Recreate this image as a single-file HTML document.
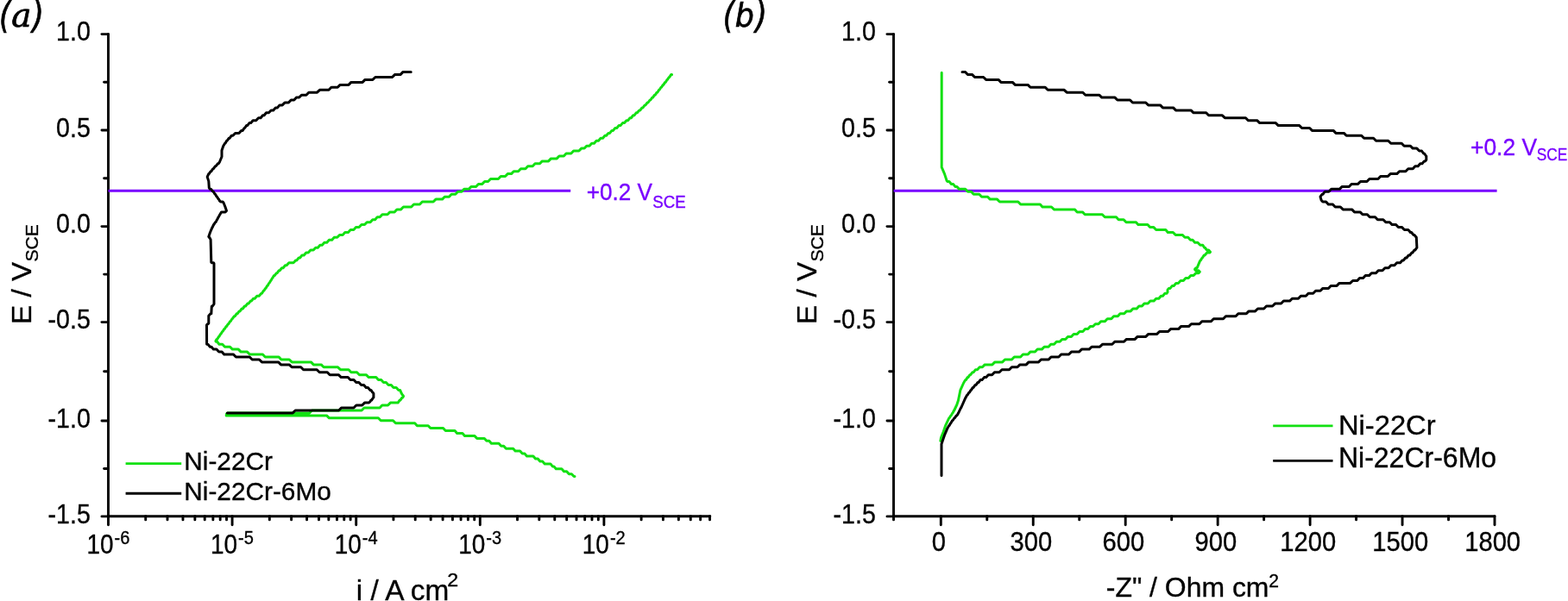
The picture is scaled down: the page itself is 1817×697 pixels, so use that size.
<!DOCTYPE html>
<html><head><meta charset="utf-8"><title>Polarization and impedance plots</title>
<style>html,body{margin:0;padding:0;background:#fff;}
body{width:1817px;height:697px;overflow:hidden;}
svg{display:block;}</style></head>
<body><svg width="1817" height="697" viewBox="0 0 1817 697">
<rect width="1817" height="697" fill="#fff"/>
<line x1="125.50" y1="39.60" x2="125.50" y2="598.80" stroke="#000" stroke-width="2.9" stroke-linecap="round"/>
<line x1="117.95" y1="39.60" x2="125.50" y2="39.60" stroke="#000" stroke-width="2.9" stroke-linecap="round"/>
<line x1="120.65" y1="95.30" x2="125.50" y2="95.30" stroke="#000" stroke-width="2.9" stroke-linecap="round"/>
<line x1="117.95" y1="151.00" x2="125.50" y2="151.00" stroke="#000" stroke-width="2.9" stroke-linecap="round"/>
<line x1="120.65" y1="206.80" x2="125.50" y2="206.80" stroke="#000" stroke-width="2.9" stroke-linecap="round"/>
<line x1="117.95" y1="262.60" x2="125.50" y2="262.60" stroke="#000" stroke-width="2.9" stroke-linecap="round"/>
<line x1="120.65" y1="318.10" x2="125.50" y2="318.10" stroke="#000" stroke-width="2.9" stroke-linecap="round"/>
<line x1="117.95" y1="373.60" x2="125.50" y2="373.60" stroke="#000" stroke-width="2.9" stroke-linecap="round"/>
<line x1="120.65" y1="430.80" x2="125.50" y2="430.80" stroke="#000" stroke-width="2.9" stroke-linecap="round"/>
<line x1="117.95" y1="488.00" x2="125.50" y2="488.00" stroke="#000" stroke-width="2.9" stroke-linecap="round"/>
<line x1="120.65" y1="543.45" x2="125.50" y2="543.45" stroke="#000" stroke-width="2.9" stroke-linecap="round"/>
<line x1="117.95" y1="598.90" x2="125.50" y2="598.90" stroke="#000" stroke-width="2.9" stroke-linecap="round"/>
<text transform="translate(104.81,47.21) scale(0.9330,1)" text-anchor="end" font-family="'Liberation Sans', Arial, Helvetica, sans-serif" font-size="30.63" fill="#000" stroke="#000" stroke-width="0.35">1.0</text>
<text transform="translate(104.81,158.61) scale(0.9330,1)" text-anchor="end" font-family="'Liberation Sans', Arial, Helvetica, sans-serif" font-size="30.63" fill="#000" stroke="#000" stroke-width="0.35">0.5</text>
<text transform="translate(104.81,270.21) scale(0.9330,1)" text-anchor="end" font-family="'Liberation Sans', Arial, Helvetica, sans-serif" font-size="30.63" fill="#000" stroke="#000" stroke-width="0.35">0.0</text>
<text transform="translate(104.81,381.21) scale(0.9330,1)" text-anchor="end" font-family="'Liberation Sans', Arial, Helvetica, sans-serif" font-size="30.63" fill="#000" stroke="#000" stroke-width="0.35">-0.5</text>
<text transform="translate(104.81,495.61) scale(0.9330,1)" text-anchor="end" font-family="'Liberation Sans', Arial, Helvetica, sans-serif" font-size="30.63" fill="#000" stroke="#000" stroke-width="0.35">-1.0</text>
<text transform="translate(104.81,606.51) scale(0.9330,1)" text-anchor="end" font-family="'Liberation Sans', Arial, Helvetica, sans-serif" font-size="30.63" fill="#000" stroke="#000" stroke-width="0.35">-1.5</text>
<line x1="125.50" y1="598.80" x2="822.80" y2="598.80" stroke="#000" stroke-width="2.9" stroke-linecap="round"/>
<line x1="125.50" y1="598.80" x2="125.50" y2="608.70" stroke="#000" stroke-width="2.9" stroke-linecap="round"/>
<line x1="168.73" y1="598.80" x2="168.73" y2="602.90" stroke="#000" stroke-width="2.9" stroke-linecap="round"/>
<line x1="194.01" y1="598.80" x2="194.01" y2="602.90" stroke="#000" stroke-width="2.9" stroke-linecap="round"/>
<line x1="211.96" y1="598.80" x2="211.96" y2="602.90" stroke="#000" stroke-width="2.9" stroke-linecap="round"/>
<line x1="225.87" y1="598.80" x2="225.87" y2="602.90" stroke="#000" stroke-width="2.9" stroke-linecap="round"/>
<line x1="237.24" y1="598.80" x2="237.24" y2="602.90" stroke="#000" stroke-width="2.9" stroke-linecap="round"/>
<line x1="246.86" y1="598.80" x2="246.86" y2="602.90" stroke="#000" stroke-width="2.9" stroke-linecap="round"/>
<line x1="255.18" y1="598.80" x2="255.18" y2="602.90" stroke="#000" stroke-width="2.9" stroke-linecap="round"/>
<line x1="262.53" y1="598.80" x2="262.53" y2="602.90" stroke="#000" stroke-width="2.9" stroke-linecap="round"/>
<line x1="269.10" y1="598.80" x2="269.10" y2="608.70" stroke="#000" stroke-width="2.9" stroke-linecap="round"/>
<line x1="312.33" y1="598.80" x2="312.33" y2="602.90" stroke="#000" stroke-width="2.9" stroke-linecap="round"/>
<line x1="337.61" y1="598.80" x2="337.61" y2="602.90" stroke="#000" stroke-width="2.9" stroke-linecap="round"/>
<line x1="355.56" y1="598.80" x2="355.56" y2="602.90" stroke="#000" stroke-width="2.9" stroke-linecap="round"/>
<line x1="369.47" y1="598.80" x2="369.47" y2="602.90" stroke="#000" stroke-width="2.9" stroke-linecap="round"/>
<line x1="380.84" y1="598.80" x2="380.84" y2="602.90" stroke="#000" stroke-width="2.9" stroke-linecap="round"/>
<line x1="390.46" y1="598.80" x2="390.46" y2="602.90" stroke="#000" stroke-width="2.9" stroke-linecap="round"/>
<line x1="398.78" y1="598.80" x2="398.78" y2="602.90" stroke="#000" stroke-width="2.9" stroke-linecap="round"/>
<line x1="406.13" y1="598.80" x2="406.13" y2="602.90" stroke="#000" stroke-width="2.9" stroke-linecap="round"/>
<line x1="412.70" y1="598.80" x2="412.70" y2="608.70" stroke="#000" stroke-width="2.9" stroke-linecap="round"/>
<line x1="455.93" y1="598.80" x2="455.93" y2="602.90" stroke="#000" stroke-width="2.9" stroke-linecap="round"/>
<line x1="481.21" y1="598.80" x2="481.21" y2="602.90" stroke="#000" stroke-width="2.9" stroke-linecap="round"/>
<line x1="499.16" y1="598.80" x2="499.16" y2="602.90" stroke="#000" stroke-width="2.9" stroke-linecap="round"/>
<line x1="513.07" y1="598.80" x2="513.07" y2="602.90" stroke="#000" stroke-width="2.9" stroke-linecap="round"/>
<line x1="524.44" y1="598.80" x2="524.44" y2="602.90" stroke="#000" stroke-width="2.9" stroke-linecap="round"/>
<line x1="534.06" y1="598.80" x2="534.06" y2="602.90" stroke="#000" stroke-width="2.9" stroke-linecap="round"/>
<line x1="542.38" y1="598.80" x2="542.38" y2="602.90" stroke="#000" stroke-width="2.9" stroke-linecap="round"/>
<line x1="549.73" y1="598.80" x2="549.73" y2="602.90" stroke="#000" stroke-width="2.9" stroke-linecap="round"/>
<line x1="556.30" y1="598.80" x2="556.30" y2="608.70" stroke="#000" stroke-width="2.9" stroke-linecap="round"/>
<line x1="599.53" y1="598.80" x2="599.53" y2="602.90" stroke="#000" stroke-width="2.9" stroke-linecap="round"/>
<line x1="624.81" y1="598.80" x2="624.81" y2="602.90" stroke="#000" stroke-width="2.9" stroke-linecap="round"/>
<line x1="642.76" y1="598.80" x2="642.76" y2="602.90" stroke="#000" stroke-width="2.9" stroke-linecap="round"/>
<line x1="656.67" y1="598.80" x2="656.67" y2="602.90" stroke="#000" stroke-width="2.9" stroke-linecap="round"/>
<line x1="668.04" y1="598.80" x2="668.04" y2="602.90" stroke="#000" stroke-width="2.9" stroke-linecap="round"/>
<line x1="677.66" y1="598.80" x2="677.66" y2="602.90" stroke="#000" stroke-width="2.9" stroke-linecap="round"/>
<line x1="685.98" y1="598.80" x2="685.98" y2="602.90" stroke="#000" stroke-width="2.9" stroke-linecap="round"/>
<line x1="693.33" y1="598.80" x2="693.33" y2="602.90" stroke="#000" stroke-width="2.9" stroke-linecap="round"/>
<line x1="699.90" y1="598.80" x2="699.90" y2="608.70" stroke="#000" stroke-width="2.9" stroke-linecap="round"/>
<line x1="743.13" y1="598.80" x2="743.13" y2="602.90" stroke="#000" stroke-width="2.9" stroke-linecap="round"/>
<line x1="768.41" y1="598.80" x2="768.41" y2="602.90" stroke="#000" stroke-width="2.9" stroke-linecap="round"/>
<line x1="786.36" y1="598.80" x2="786.36" y2="602.90" stroke="#000" stroke-width="2.9" stroke-linecap="round"/>
<line x1="800.27" y1="598.80" x2="800.27" y2="602.90" stroke="#000" stroke-width="2.9" stroke-linecap="round"/>
<line x1="811.64" y1="598.80" x2="811.64" y2="602.90" stroke="#000" stroke-width="2.9" stroke-linecap="round"/>
<line x1="822.50" y1="598.80" x2="822.50" y2="602.90" stroke="#000" stroke-width="2.9" stroke-linecap="round"/>
<text transform="translate(131.50,641.89) scale(0.8970,1)" text-anchor="end" font-family="'Liberation Sans', Arial, Helvetica, sans-serif" font-size="31.16" fill="#000" stroke="#000" stroke-width="0.35">10</text>
<text transform="translate(132.50,630.75) scale(0.8912,1)" text-anchor="start" font-family="'Liberation Sans', Arial, Helvetica, sans-serif" font-size="22.52" fill="#000" stroke="#000" stroke-width="0.35">-6</text>
<text transform="translate(275.10,641.89) scale(0.8970,1)" text-anchor="end" font-family="'Liberation Sans', Arial, Helvetica, sans-serif" font-size="31.16" fill="#000" stroke="#000" stroke-width="0.35">10</text>
<text transform="translate(276.10,630.75) scale(0.8912,1)" text-anchor="start" font-family="'Liberation Sans', Arial, Helvetica, sans-serif" font-size="22.52" fill="#000" stroke="#000" stroke-width="0.35">-5</text>
<text transform="translate(418.70,641.89) scale(0.8970,1)" text-anchor="end" font-family="'Liberation Sans', Arial, Helvetica, sans-serif" font-size="31.16" fill="#000" stroke="#000" stroke-width="0.35">10</text>
<text transform="translate(419.70,630.75) scale(0.8912,1)" text-anchor="start" font-family="'Liberation Sans', Arial, Helvetica, sans-serif" font-size="22.52" fill="#000" stroke="#000" stroke-width="0.35">-4</text>
<text transform="translate(562.30,641.89) scale(0.8970,1)" text-anchor="end" font-family="'Liberation Sans', Arial, Helvetica, sans-serif" font-size="31.16" fill="#000" stroke="#000" stroke-width="0.35">10</text>
<text transform="translate(563.30,630.75) scale(0.8912,1)" text-anchor="start" font-family="'Liberation Sans', Arial, Helvetica, sans-serif" font-size="22.52" fill="#000" stroke="#000" stroke-width="0.35">-3</text>
<text transform="translate(705.90,641.89) scale(0.8970,1)" text-anchor="end" font-family="'Liberation Sans', Arial, Helvetica, sans-serif" font-size="31.16" fill="#000" stroke="#000" stroke-width="0.35">10</text>
<text transform="translate(706.90,630.75) scale(0.8912,1)" text-anchor="start" font-family="'Liberation Sans', Arial, Helvetica, sans-serif" font-size="22.52" fill="#000" stroke="#000" stroke-width="0.35">-2</text>
<line x1="1035.50" y1="39.60" x2="1035.50" y2="598.80" stroke="#000" stroke-width="2.9" stroke-linecap="round"/>
<line x1="1027.95" y1="39.60" x2="1035.50" y2="39.60" stroke="#000" stroke-width="2.9" stroke-linecap="round"/>
<line x1="1030.65" y1="95.30" x2="1035.50" y2="95.30" stroke="#000" stroke-width="2.9" stroke-linecap="round"/>
<line x1="1027.95" y1="151.00" x2="1035.50" y2="151.00" stroke="#000" stroke-width="2.9" stroke-linecap="round"/>
<line x1="1030.65" y1="206.80" x2="1035.50" y2="206.80" stroke="#000" stroke-width="2.9" stroke-linecap="round"/>
<line x1="1027.95" y1="262.60" x2="1035.50" y2="262.60" stroke="#000" stroke-width="2.9" stroke-linecap="round"/>
<line x1="1030.65" y1="318.10" x2="1035.50" y2="318.10" stroke="#000" stroke-width="2.9" stroke-linecap="round"/>
<line x1="1027.95" y1="373.60" x2="1035.50" y2="373.60" stroke="#000" stroke-width="2.9" stroke-linecap="round"/>
<line x1="1030.65" y1="430.80" x2="1035.50" y2="430.80" stroke="#000" stroke-width="2.9" stroke-linecap="round"/>
<line x1="1027.95" y1="488.00" x2="1035.50" y2="488.00" stroke="#000" stroke-width="2.9" stroke-linecap="round"/>
<line x1="1030.65" y1="543.45" x2="1035.50" y2="543.45" stroke="#000" stroke-width="2.9" stroke-linecap="round"/>
<line x1="1027.95" y1="598.90" x2="1035.50" y2="598.90" stroke="#000" stroke-width="2.9" stroke-linecap="round"/>
<text transform="translate(1014.81,47.21) scale(0.9330,1)" text-anchor="end" font-family="'Liberation Sans', Arial, Helvetica, sans-serif" font-size="30.63" fill="#000" stroke="#000" stroke-width="0.35">1.0</text>
<text transform="translate(1014.81,158.61) scale(0.9330,1)" text-anchor="end" font-family="'Liberation Sans', Arial, Helvetica, sans-serif" font-size="30.63" fill="#000" stroke="#000" stroke-width="0.35">0.5</text>
<text transform="translate(1014.81,270.21) scale(0.9330,1)" text-anchor="end" font-family="'Liberation Sans', Arial, Helvetica, sans-serif" font-size="30.63" fill="#000" stroke="#000" stroke-width="0.35">0.0</text>
<text transform="translate(1014.81,381.21) scale(0.9330,1)" text-anchor="end" font-family="'Liberation Sans', Arial, Helvetica, sans-serif" font-size="30.63" fill="#000" stroke="#000" stroke-width="0.35">-0.5</text>
<text transform="translate(1014.81,495.61) scale(0.9330,1)" text-anchor="end" font-family="'Liberation Sans', Arial, Helvetica, sans-serif" font-size="30.63" fill="#000" stroke="#000" stroke-width="0.35">-1.0</text>
<text transform="translate(1014.81,606.51) scale(0.9330,1)" text-anchor="end" font-family="'Liberation Sans', Arial, Helvetica, sans-serif" font-size="30.63" fill="#000" stroke="#000" stroke-width="0.35">-1.5</text>
<line x1="1035.50" y1="598.80" x2="1732.00" y2="598.80" stroke="#000" stroke-width="2.9" stroke-linecap="round"/>
<line x1="1035.50" y1="598.80" x2="1035.50" y2="602.90" stroke="#000" stroke-width="2.9" stroke-linecap="round"/>
<line x1="1090.30" y1="598.80" x2="1090.30" y2="608.70" stroke="#000" stroke-width="2.9" stroke-linecap="round"/>
<line x1="1143.77" y1="598.80" x2="1143.77" y2="602.90" stroke="#000" stroke-width="2.9" stroke-linecap="round"/>
<line x1="1197.25" y1="598.80" x2="1197.25" y2="608.70" stroke="#000" stroke-width="2.9" stroke-linecap="round"/>
<line x1="1250.72" y1="598.80" x2="1250.72" y2="602.90" stroke="#000" stroke-width="2.9" stroke-linecap="round"/>
<line x1="1304.20" y1="598.80" x2="1304.20" y2="608.70" stroke="#000" stroke-width="2.9" stroke-linecap="round"/>
<line x1="1357.67" y1="598.80" x2="1357.67" y2="602.90" stroke="#000" stroke-width="2.9" stroke-linecap="round"/>
<line x1="1411.15" y1="598.80" x2="1411.15" y2="608.70" stroke="#000" stroke-width="2.9" stroke-linecap="round"/>
<line x1="1464.62" y1="598.80" x2="1464.62" y2="602.90" stroke="#000" stroke-width="2.9" stroke-linecap="round"/>
<line x1="1518.10" y1="598.80" x2="1518.10" y2="608.70" stroke="#000" stroke-width="2.9" stroke-linecap="round"/>
<line x1="1571.57" y1="598.80" x2="1571.57" y2="602.90" stroke="#000" stroke-width="2.9" stroke-linecap="round"/>
<line x1="1625.05" y1="598.80" x2="1625.05" y2="608.70" stroke="#000" stroke-width="2.9" stroke-linecap="round"/>
<line x1="1678.53" y1="598.80" x2="1678.53" y2="602.90" stroke="#000" stroke-width="2.9" stroke-linecap="round"/>
<line x1="1732.00" y1="598.80" x2="1732.00" y2="608.70" stroke="#000" stroke-width="2.9" stroke-linecap="round"/>
<text transform="translate(1087.95,638.51) scale(0.9380,1)" text-anchor="middle" font-family="'Liberation Sans', Arial, Helvetica, sans-serif" font-size="31.08" fill="#000" stroke="#000" stroke-width="0.35">0</text>
<text transform="translate(1194.90,638.51) scale(0.9380,1)" text-anchor="middle" font-family="'Liberation Sans', Arial, Helvetica, sans-serif" font-size="31.08" fill="#000" stroke="#000" stroke-width="0.35">300</text>
<text transform="translate(1301.85,638.51) scale(0.9380,1)" text-anchor="middle" font-family="'Liberation Sans', Arial, Helvetica, sans-serif" font-size="31.08" fill="#000" stroke="#000" stroke-width="0.35">600</text>
<text transform="translate(1408.80,638.51) scale(0.9380,1)" text-anchor="middle" font-family="'Liberation Sans', Arial, Helvetica, sans-serif" font-size="31.08" fill="#000" stroke="#000" stroke-width="0.35">900</text>
<text transform="translate(1515.75,638.51) scale(0.9380,1)" text-anchor="middle" font-family="'Liberation Sans', Arial, Helvetica, sans-serif" font-size="31.08" fill="#000" stroke="#000" stroke-width="0.35">1200</text>
<text transform="translate(1622.70,638.51) scale(0.9380,1)" text-anchor="middle" font-family="'Liberation Sans', Arial, Helvetica, sans-serif" font-size="31.08" fill="#000" stroke="#000" stroke-width="0.35">1500</text>
<text transform="translate(1729.65,638.51) scale(0.9380,1)" text-anchor="middle" font-family="'Liberation Sans', Arial, Helvetica, sans-serif" font-size="31.08" fill="#000" stroke="#000" stroke-width="0.35">1800</text>
<text transform="translate(412.75,695.68) scale(0.9892,1)" text-anchor="start" font-family="'Liberation Sans', Arial, Helvetica, sans-serif" font-size="33.76" fill="#000" stroke="#000" stroke-width="0.35">i / A cm</text>
<text transform="translate(518.25,680.37) scale(1.0714,1)" text-anchor="start" font-family="'Liberation Sans', Arial, Helvetica, sans-serif" font-size="21.68" fill="#000" stroke="#000" stroke-width="0.35">2</text>
<text transform="translate(1281.75,691.56) scale(1.0217,1)" text-anchor="start" font-family="'Liberation Sans', Arial, Helvetica, sans-serif" font-size="31.26" fill="#000" stroke="#000" stroke-width="0.35">-Z&quot; / Ohm cm</text>
<text transform="translate(1470.25,680.88) scale(0.9747,1)" text-anchor="start" font-family="'Liberation Sans', Arial, Helvetica, sans-serif" font-size="21.68" fill="#000" stroke="#000" stroke-width="0.35">2</text>
<text transform="translate(35.60,376.05) rotate(-90) scale(1.0443,1)" text-anchor="start" font-family="'Liberation Sans', Arial, Helvetica, sans-serif" font-size="31.95" fill="#000" stroke="#000" stroke-width="0.35">E / V</text>
<text transform="translate(44.05,303.50) rotate(-90) scale(1.0069,1)" text-anchor="start" font-family="'Liberation Sans', Arial, Helvetica, sans-serif" font-size="20.99" fill="#000" stroke="#000" stroke-width="0.35">SCE</text>
<text transform="translate(945.60,376.05) rotate(-90) scale(1.0443,1)" text-anchor="start" font-family="'Liberation Sans', Arial, Helvetica, sans-serif" font-size="31.95" fill="#000" stroke="#000" stroke-width="0.35">E / V</text>
<text transform="translate(954.05,303.50) rotate(-90) scale(1.0069,1)" text-anchor="start" font-family="'Liberation Sans', Arial, Helvetica, sans-serif" font-size="20.99" fill="#000" stroke="#000" stroke-width="0.35">SCE</text>
<text transform="translate(-1.00,33.25) scale(0.9000,1)" text-anchor="start" font-family="'DejaVu Sans Condensed', 'DejaVu Sans', sans-serif" font-size="42.04" font-style="italic" fill="#000" stroke="#000" stroke-width="0.7">(</text>
<text transform="translate(13.25,31.20) scale(1.1261,1)" text-anchor="start" font-family="'DejaVu Serif Condensed', 'DejaVu Serif', serif" font-size="38.47" font-style="italic" fill="#000" stroke="#000" stroke-width="0.7">a</text>
<text transform="translate(37.25,33.25) scale(0.9283,1)" text-anchor="start" font-family="'DejaVu Sans Condensed', 'DejaVu Sans', sans-serif" font-size="42.04" font-style="italic" fill="#000" stroke="#000" stroke-width="0.7">)</text>
<text transform="translate(837.75,33.14) scale(0.9013,1)" text-anchor="start" font-family="'DejaVu Sans Condensed', 'DejaVu Sans', sans-serif" font-size="42.0" font-style="italic" fill="#000" stroke="#000" stroke-width="0.7">(</text>
<text transform="translate(851.75,31.23) scale(1.0255,1)" text-anchor="start" font-family="'DejaVu Sans Condensed', 'DejaVu Sans', sans-serif" font-size="37.71" font-style="italic" fill="#000" stroke="#000" stroke-width="0.7">b</text>
<text transform="translate(875.25,33.14) scale(0.9295,1)" text-anchor="start" font-family="'DejaVu Sans Condensed', 'DejaVu Sans', sans-serif" font-size="42.0" font-style="italic" fill="#000" stroke="#000" stroke-width="0.7">)</text>
<line x1="125.50" y1="221.20" x2="661.20" y2="221.20" stroke="#7800ff" stroke-width="2.9" stroke-linecap="butt"/>
<line x1="1035.50" y1="221.20" x2="1734.60" y2="221.20" stroke="#7800ff" stroke-width="2.9" stroke-linecap="butt"/>
<text transform="translate(679.75,232.00) scale(0.9401,1)" text-anchor="start" font-family="'Liberation Sans', Arial, Helvetica, sans-serif" font-size="27.79" fill="#7800ff" stroke="#7800ff" stroke-width="0.35">+0.2 V</text>
<text transform="translate(756.20,240.73) scale(0.9663,1)" text-anchor="start" font-family="'Liberation Sans', Arial, Helvetica, sans-serif" font-size="19.34" fill="#7800ff" stroke="#7800ff" stroke-width="0.35">SCE</text>
<text transform="translate(1704.00,179.84) scale(0.9483,1)" text-anchor="start" font-family="'Liberation Sans', Arial, Helvetica, sans-serif" font-size="27.86" fill="#7800ff" stroke="#7800ff" stroke-width="0.35">+0.2 V</text>
<text transform="translate(1780.75,185.74) scale(0.8591,1)" text-anchor="start" font-family="'Liberation Sans', Arial, Helvetica, sans-serif" font-size="20.11" fill="#7800ff" stroke="#7800ff" stroke-width="0.35">SCE</text>
<line x1="145.60" y1="537.60" x2="210.20" y2="537.60" stroke="#12e012" stroke-width="2.9" stroke-linecap="butt"/>
<line x1="145.60" y1="572.20" x2="210.20" y2="572.20" stroke="#000" stroke-width="2.9" stroke-linecap="butt"/>
<line x1="1475.20" y1="493.90" x2="1544.50" y2="493.90" stroke="#12e012" stroke-width="2.9" stroke-linecap="butt"/>
<line x1="1475.20" y1="534.40" x2="1544.50" y2="534.40" stroke="#000" stroke-width="2.9" stroke-linecap="butt"/>
<text transform="translate(213.25,544.74) scale(1.0252,1)" text-anchor="start" font-family="'Liberation Sans', Arial, Helvetica, sans-serif" font-size="29.11" fill="#000" stroke="#000" stroke-width="0.35">Ni-22Cr</text>
<text transform="translate(213.25,580.22) scale(1.0075,1)" text-anchor="start" font-family="'Liberation Sans', Arial, Helvetica, sans-serif" font-size="29.58" fill="#000" stroke="#000" stroke-width="0.35">Ni-22Cr-6Mo</text>
<text transform="translate(1550.90,503.92) scale(1.0196,1)" text-anchor="start" font-family="'Liberation Sans', Arial, Helvetica, sans-serif" font-size="32.1" fill="#000" stroke="#000" stroke-width="0.35">Ni-22Cr</text>
<text transform="translate(1550.90,542.47) scale(0.9783,1)" text-anchor="start" font-family="'Liberation Sans', Arial, Helvetica, sans-serif" font-size="32.74" fill="#000" stroke="#000" stroke-width="0.35">Ni-22Cr-6Mo</text>
<polyline points="666.0,552.6 665.1,552.6 662.4,549.7 659.4,549.7 656.7,546.7 653.5,546.7 650.9,543.8 644.3,543.8 641.9,540.9 640.3,540.9 637.9,537.9 631.2,537.9 628.6,535.0 625.8,535.0 623.2,532.0 620.5,532.0 617.9,529.0 610.5,529.0 607.9,526.1 605.3,526.1 602.6,523.1 597.1,523.1 594.6,520.2 586.4,520.2 583.7,517.2 580.7,517.2 578.0,514.3 569.4,514.3 566.8,511.3 563.9,511.3 561.3,508.4 552.7,508.4 549.8,505.4 538.5,505.4 535.9,502.5 529.6,502.5 527.1,499.6 516.3,499.6 513.5,496.6 498.9,496.6 496.2,493.7 483.4,493.7 480.7,490.7 458.5,490.7 455.5,487.7 441.3,487.7 438.4,484.8 381.5,484.8 378.5,481.9 262.2,481.9 262.5,480.1 263.6,478.9 358.6,478.9 361.6,476.0 419.0,476.0 422.0,473.0 440.0,473.0 442.8,470.0 449.5,470.0 452.4,467.1 461.1,467.1 463.2,464.1 463.9,464.1 465.9,461.2 466.5,461.2 467.5,459.6 467.5,459.4 466.8,458.3 466.5,458.3 465.3,456.3 463.6,452.4 461.9,452.4 459.2,449.4 456.0,449.4 453.3,446.4 450.1,446.4 447.4,443.5 444.4,443.5 441.7,440.6 438.5,440.6 435.8,437.6 427.3,437.6 424.3,434.7 416.5,434.7 413.6,431.7 406.9,431.7 404.0,428.7 394.5,428.7 391.5,425.8 375.1,425.8 372.2,422.9 363.3,422.9 360.4,419.9 338.2,419.9 335.2,417.0 325.9,417.0 323.1,414.0 307.3,414.0 304.4,411.0 289.4,411.0 286.5,408.1 279.2,408.1 276.3,405.1 269.4,405.1 266.5,402.2 260.5,402.2 257.7,399.3 254.0,399.3 251.6,396.3 250.5,396.3 249.9,395.5 251.2,393.4 251.7,393.4 253.4,390.4 253.8,390.4 255.5,387.4 255.9,387.4 257.7,384.5 258.0,384.5 259.8,381.6 260.3,381.6 262.1,378.6 262.5,378.6 264.3,375.7 264.8,375.7 266.6,372.7 267.1,372.7 269.0,369.7 269.3,369.7 271.3,366.8 272.1,366.8 274.2,363.8 275.1,363.8 277.2,360.9 278.1,360.9 280.2,358.0 281.3,358.0 283.5,355.0 284.6,355.0 286.8,352.1 288.0,352.1 290.3,349.1 291.3,349.1 293.6,346.2 295.2,346.2 297.8,343.2 300.2,343.2 302.8,340.2 303.5,340.2 305.3,337.3 305.8,337.3 307.5,334.4 307.9,334.4 309.6,331.4 310.0,331.4 311.7,328.4 312.1,328.4 313.7,325.5 313.9,325.5 315.5,322.6 315.8,322.6 316.8,320.6 317.5,319.6 318.2,319.6 320.4,316.7 321.2,316.7 323.3,313.7 324.2,313.7 326.6,310.7 328.1,310.7 330.5,307.8 332.1,307.8 334.8,304.8 340.0,304.8 341.5,303.3 342.6,301.9 343.9,301.9 346.2,299.0 347.6,299.0 350.0,296.0 352.2,296.0 354.8,293.1 357.2,293.1 359.9,290.1 363.1,290.1 365.8,287.2 368.3,287.2 370.9,284.2 373.3,284.2 375.9,281.2 378.8,281.2 381.4,278.3 384.7,278.3 387.3,275.3 390.8,275.3 393.5,272.4 397.1,272.4 399.8,269.5 403.5,269.5 406.2,266.5 409.8,266.5 412.5,263.6 416.1,263.6 418.9,260.6 422.5,260.6 425.2,257.7 429.1,257.7 431.8,254.7 434.6,254.7 437.2,251.8 440.2,251.8 443.0,248.8 449.0,248.8 451.9,245.9 457.1,245.9 459.9,242.9 464.6,242.9 467.4,240.0 476.6,240.0 479.5,237.0 486.4,237.0 489.3,234.0 502.1,234.0 505.0,231.1 512.5,231.1 515.3,228.2 520.4,228.2 523.2,225.2 527.8,225.2 530.6,222.2 535.0,222.2 537.8,219.3 543.3,219.3 546.1,216.4 551.6,216.4 554.4,213.4 558.8,213.4 561.6,210.5 565.6,210.5 568.5,207.5 577.4,207.5 580.3,204.5 585.5,204.5 588.3,201.6 592.5,201.6 595.3,198.7 600.6,198.7 603.4,195.7 608.9,195.7 611.7,192.7 617.2,192.7 620.0,189.8 625.5,189.8 628.3,186.9 635.6,186.9 638.5,183.9 645.2,183.9 648.0,181.0 653.3,181.0 656.1,178.0 661.8,178.0 664.6,175.0 670.9,175.0 673.7,172.1 677.1,172.1 679.8,169.2 683.0,169.2 685.7,166.2 688.5,166.2 691.1,163.2 693.5,163.2 696.1,160.3 698.5,160.3 701.0,157.3 702.6,157.3 705.0,154.4 706.6,154.4 709.0,151.4 710.5,151.4 712.9,148.5 714.7,148.5 717.2,145.6 719.0,145.6 721.5,142.6 723.5,142.6 726.0,139.7 727.8,139.7 730.1,136.7 731.4,136.7 733.7,133.8 734.9,133.8 737.2,130.8 738.4,130.8 740.8,127.9 741.8,127.9 744.0,124.9 745.0,124.9 747.2,121.9 748.0,121.9 750.2,119.0 751.0,119.0 753.1,116.0 753.8,116.0 755.8,113.1 756.5,113.1 758.5,110.2 759.2,110.2 761.2,107.2 761.8,107.2 763.6,104.3 764.1,104.3 766.0,101.3 766.5,101.3 768.3,98.4 768.8,98.4 770.7,95.4 771.2,95.4 773.0,92.4 773.4,92.4 775.3,89.5 775.8,89.5 777.6,86.6 778.6,86.6" fill="none" stroke="#12e012" stroke-width="3.0" stroke-linejoin="round" stroke-linecap="round"/>
<polyline points="263.3,478.9 339.2,478.9 342.2,476.0 392.6,476.0 395.5,473.0 409.9,473.0 412.9,470.0 419.7,470.0 422.5,467.1 427.6,467.1 428.9,465.7 429.9,464.1 430.6,464.1 432.5,461.2 432.8,461.2 432.9,461.0 432.9,456.5 432.2,455.3 431.8,455.3 429.9,452.4 429.0,452.4 426.4,449.4 424.2,449.4 421.6,446.4 418.6,446.4 415.9,443.5 412.7,443.5 410.0,440.6 406.0,440.6 403.2,437.6 395.3,437.6 392.3,434.7 382.2,434.7 379.3,431.7 370.2,431.7 367.2,428.7 351.6,428.7 348.7,425.8 338.1,425.8 335.2,422.9 325.5,422.9 322.6,419.9 303.4,419.9 300.5,417.0 292.2,417.0 289.2,414.0 273.4,414.0 270.5,411.0 259.7,411.0 257.1,408.1 253.7,408.1 250.9,405.1 247.4,405.1 245.0,402.2 243.4,402.2 240.9,399.3 239.7,399.3 239.6,399.1 239.5,377.0 240.5,375.7 241.2,375.7 241.8,374.9 241.8,366.2 244.0,363.8 244.8,363.8 245.3,355.4 245.6,355.0 246.2,355.0 248.0,352.6 248.0,305.4 247.5,304.8 245.4,304.8 244.8,304.1 244.1,277.9 242.7,275.3 242.4,275.3 241.8,274.4 243.5,269.5 246.0,263.6 246.2,263.6 247.5,260.6 247.7,260.6 249.5,257.7 249.9,257.7 250.9,255.9 251.5,254.7 251.7,254.7 253.0,251.8 253.2,251.8 254.7,248.8 254.9,248.8 256.5,245.9 261.1,245.9 262.5,244.5 261.0,240.0 259.1,235.2 258.1,234.0 255.6,234.0 254.5,232.9 253.5,231.1 253.2,231.1 251.5,228.2 251.2,228.2 249.5,225.2 249.1,225.2 247.3,222.2 246.7,222.2 244.5,219.3 243.4,219.3 242.3,217.9 241.8,210.1 240.2,205.1 241.8,201.6 242.2,201.6 244.1,198.7 244.8,198.7 246.7,195.7 247.4,195.7 249.5,192.7 250.2,192.7 252.3,189.8 253.1,189.8 254.5,187.8 257.0,181.7 257.0,174.5 258.8,169.2 260.6,166.2 261.0,166.2 262.7,163.2 263.2,163.2 265.2,160.3 266.0,160.3 268.2,157.3 269.9,157.3 272.6,154.4 276.9,154.4 279.6,151.4 281.2,151.4 283.1,148.5 283.6,148.5 285.6,145.6 286.6,145.6 289.0,142.6 290.7,142.6 293.1,139.7 296.7,139.7 299.5,136.7 302.1,136.7 304.5,133.8 306.1,133.8 308.5,130.8 311.4,130.8 314.1,127.9 316.7,127.9 319.3,124.9 321.5,124.9 324.0,121.9 327.2,121.9 330.0,119.0 334.4,119.0 337.2,116.0 340.8,116.0 343.5,113.1 346.7,113.1 349.4,110.2 354.9,110.2 357.8,107.2 367.5,107.2 370.5,104.3 381.0,104.3 383.9,101.3 391.2,101.3 394.1,98.4 404.0,98.4 406.9,95.4 420.1,95.4 423.0,92.4 431.9,92.4 434.9,89.5 454.6,89.5 457.4,86.6 463.9,86.6 466.8,83.6 476.2,83.6" fill="none" stroke="#000" stroke-width="3.0" stroke-linejoin="round" stroke-linecap="round"/>
<polyline points="1091.2,84.2 1091.2,193.9 1094.5,201.6 1097.1,209.5 1098.0,210.5 1099.9,210.5 1102.4,213.4 1104.5,213.4 1106.9,216.4 1108.9,216.4 1111.4,219.3 1118.6,219.3 1121.5,222.2 1125.5,222.2 1128.2,225.2 1134.7,225.2 1137.6,228.2 1144.5,228.2 1147.3,231.1 1155.5,231.1 1158.4,234.0 1179.8,234.0 1182.7,237.0 1205.3,237.0 1208.0,240.0 1218.4,240.0 1221.4,242.9 1245.5,242.9 1248.2,245.9 1254.4,245.9 1257.2,248.8 1277.3,248.8 1280.3,251.8 1293.5,251.8 1296.2,254.7 1302.1,254.7 1305.0,257.7 1316.4,257.7 1318.9,260.6 1329.9,260.6 1332.6,263.6 1336.9,263.6 1339.7,266.5 1350.8,266.5 1353.3,269.5 1359.3,269.5 1362.2,272.4 1370.1,272.4 1373.0,275.3 1376.7,275.3 1379.4,278.3 1382.0,278.3 1384.6,281.2 1387.9,281.2 1390.8,284.2 1393.8,284.2 1395.7,287.2 1396.4,287.2 1397.4,288.7 1398.6,290.1 1400.6,290.1 1402.5,292.3 1401.8,293.1 1398.7,293.1 1396.1,296.0 1395.2,296.0 1393.4,299.0 1393.1,299.0 1391.3,301.9 1391.0,301.9 1390.4,302.9 1387.3,310.4 1387.0,310.7 1385.9,310.7 1384.6,312.3 1384.6,312.5 1385.6,313.7 1388.9,313.7 1390.3,315.3 1389.0,316.7 1385.8,316.7 1383.1,319.6 1379.9,319.6 1377.2,322.6 1374.0,322.6 1371.3,325.5 1368.1,325.5 1365.4,328.4 1362.8,328.4 1360.2,331.4 1358.4,331.4 1356.0,334.4 1354.4,334.4 1353.0,336.1 1353.0,338.9 1351.9,340.2 1349.9,340.2 1347.4,343.2 1345.4,343.2 1342.8,346.2 1339.7,346.2 1337.1,349.1 1333.0,349.1 1330.2,352.1 1326.0,352.1 1323.3,355.0 1319.9,355.0 1317.2,358.0 1312.9,358.0 1310.1,360.9 1305.5,360.9 1302.7,363.8 1298.0,363.8 1295.3,366.8 1290.6,366.8 1287.8,369.7 1283.2,369.7 1280.4,372.7 1275.7,372.7 1272.9,375.7 1269.3,375.7 1266.6,378.6 1263.4,378.6 1260.7,381.6 1257.5,381.6 1254.8,384.5 1251.0,384.5 1248.2,387.4 1244.2,387.4 1241.4,390.4 1237.4,390.4 1234.7,393.4 1230.8,393.4 1228.1,396.3 1224.3,396.3 1221.5,399.3 1217.7,399.3 1215.0,402.2 1210.1,402.2 1207.3,405.1 1202.2,405.1 1199.4,408.1 1193.9,408.1 1191.1,411.0 1185.4,411.0 1182.6,414.0 1175.3,414.0 1172.4,417.0 1164.5,417.0 1161.6,419.9 1152.9,419.9 1149.9,422.9 1141.2,422.9 1138.4,425.8 1135.2,425.8 1132.5,428.7 1130.5,428.7 1128.2,431.7 1127.0,431.7 1124.7,434.7 1123.8,434.7 1121.9,437.6 1121.2,437.6 1119.3,440.6 1118.8,440.6 1117.5,442.5 1117.0,443.5 1116.9,443.5 1112.8,452.7 1110.5,464.3 1108.6,470.0 1108.5,470.0 1105.7,476.0 1105.5,476.0 1104.1,478.9 1103.8,478.9 1102.2,481.9 1101.8,481.9 1100.1,484.8 1099.8,484.8 1099.6,485.2 1095.6,493.7 1093.1,501.1 1090.5,507.6 1089.9,511.3" fill="none" stroke="#12e012" stroke-width="3.0" stroke-linejoin="round" stroke-linecap="round"/>
<polyline points="1115.0,83.6 1118.6,83.6 1121.4,86.6 1126.7,86.6 1129.5,89.5 1139.6,89.5 1142.6,92.4 1157.0,92.4 1159.9,95.4 1173.3,95.4 1176.3,98.4 1191.1,98.4 1194.0,101.3 1211.2,101.3 1214.2,104.3 1233.2,104.3 1236.2,107.2 1254.8,107.2 1257.8,110.2 1273.8,110.2 1276.8,113.1 1292.0,113.1 1294.9,116.0 1309.5,116.0 1312.5,119.0 1327.7,119.0 1330.7,121.9 1344.5,121.9 1347.4,124.9 1359.6,124.9 1362.5,127.9 1380.1,127.9 1383.1,130.8 1397.7,130.8 1400.6,133.8 1416.4,133.8 1419.4,136.7 1443.5,136.7 1446.4,139.7 1456.7,139.7 1459.7,142.6 1478.3,142.6 1481.3,145.6 1505.7,145.6 1508.6,148.5 1517.6,148.5 1520.5,151.4 1545.1,151.4 1548.0,154.4 1557.3,154.4 1560.2,157.3 1577.7,157.3 1580.6,160.3 1591.6,160.3 1594.5,163.2 1608.7,163.2 1611.7,166.2 1624.2,166.2 1627.1,169.2 1634.4,169.2 1637.2,172.1 1641.9,172.1 1644.7,175.0 1647.5,175.0 1649.6,178.0 1650.5,178.0 1652.6,181.0 1652.8,181.0 1652.8,185.3 1651.6,186.9 1650.4,186.9 1648.0,189.8 1645.8,189.8 1643.2,192.7 1639.9,192.7 1637.2,195.7 1631.8,195.7 1628.9,198.7 1621.6,198.7 1618.7,201.6 1611.2,201.6 1608.3,204.5 1599.8,204.5 1596.9,207.5 1586.9,207.5 1584.0,210.5 1576.5,210.5 1573.6,213.4 1566.1,213.4 1563.3,216.4 1555.2,216.4 1552.2,219.3 1542.7,219.3 1539.9,222.2 1535.4,222.2 1534.6,223.0 1533.1,225.2 1532.2,225.2 1530.0,228.2 1531.2,232.3 1532.8,234.0 1536.6,234.0 1539.3,237.0 1544.4,237.0 1547.2,240.0 1553.3,240.0 1556.2,242.9 1566.6,242.9 1569.5,245.9 1576.1,245.9 1579.0,248.8 1584.4,248.8 1587.3,251.8 1593.6,251.8 1596.4,254.7 1602.9,254.7 1605.8,257.7 1610.4,257.7 1613.2,260.6 1617.6,260.6 1620.4,263.6 1624.6,263.6 1627.4,266.5 1631.8,266.5 1633.3,268.1 1634.4,269.5 1635.6,269.5 1637.9,272.4 1638.9,272.4 1641.2,275.3 1641.3,275.3 1641.9,287.2 1639.8,290.1 1638.9,290.1 1636.8,293.1 1635.9,293.1 1633.7,296.0 1632.3,296.0 1630.0,299.0 1628.7,299.0 1626.4,301.9 1625.0,301.9 1622.5,304.8 1618.6,304.8 1615.9,307.8 1611.8,307.8 1609.1,310.7 1604.9,310.7 1602.0,313.7 1597.2,313.7 1594.4,316.7 1589.3,316.7 1586.5,319.6 1582.3,319.6 1579.6,322.6 1575.5,322.6 1572.8,325.5 1567.6,325.5 1564.6,328.4 1552.0,328.4 1549.1,331.4 1542.2,331.4 1539.4,334.4 1532.9,334.4 1530.0,337.3 1524.6,337.3 1521.7,340.2 1516.1,340.2 1513.3,343.2 1507.4,343.2 1504.5,346.2 1497.4,346.2 1494.5,349.1 1487.4,349.1 1484.6,352.1 1477.5,352.1 1474.6,355.0 1467.5,355.0 1464.6,358.0 1457.5,358.0 1454.6,360.9 1447.1,360.9 1444.3,363.8 1434.9,363.8 1432.0,366.8 1420.4,366.8 1417.5,369.7 1406.3,369.7 1403.4,372.7 1392.8,372.7 1389.9,375.7 1380.4,375.7 1377.5,378.6 1368.5,378.6 1365.6,381.6 1356.5,381.6 1353.6,384.5 1343.6,384.5 1340.7,387.4 1330.8,387.4 1327.8,390.4 1318.1,390.4 1315.2,393.4 1305.4,393.4 1302.5,396.3 1291.8,396.3 1288.8,399.3 1277.5,399.3 1274.5,402.2 1265.0,402.2 1262.1,405.1 1253.4,405.1 1250.4,408.1 1241.5,408.1 1238.6,411.0 1229.7,411.0 1226.8,414.0 1218.0,414.0 1215.1,417.0 1206.4,417.0 1203.5,419.9 1192.1,419.9 1189.2,422.9 1181.9,422.9 1179.0,425.8 1172.4,425.8 1169.5,428.7 1161.0,428.7 1158.0,431.7 1152.4,431.7 1149.6,434.7 1145.3,434.7 1142.8,437.6 1140.5,437.6 1138.0,440.6 1136.1,440.6 1133.9,443.5 1133.1,443.5 1131.0,446.4 1130.1,446.4 1128.0,449.4 1127.3,449.4 1125.4,452.4 1125.1,452.4 1123.3,455.3 1122.8,455.3 1121.0,458.3 1120.6,458.3 1119.7,459.8 1119.1,461.2 1118.9,461.2 1115.0,470.0 1113.6,473.0 1113.4,473.0 1110.7,478.9 1110.5,478.9 1109.9,480.3 1108.8,481.9 1108.3,481.9 1106.4,484.8 1105.9,484.8 1104.0,487.7 1103.5,487.7 1101.8,490.7 1101.6,490.7 1099.9,493.7 1099.6,493.7 1098.0,496.6 1097.9,496.6 1094.4,504.9 1091.0,514.9 1091.0,551.5" fill="none" stroke="#000" stroke-width="3.0" stroke-linejoin="round" stroke-linecap="round"/>
</svg></body></html>
